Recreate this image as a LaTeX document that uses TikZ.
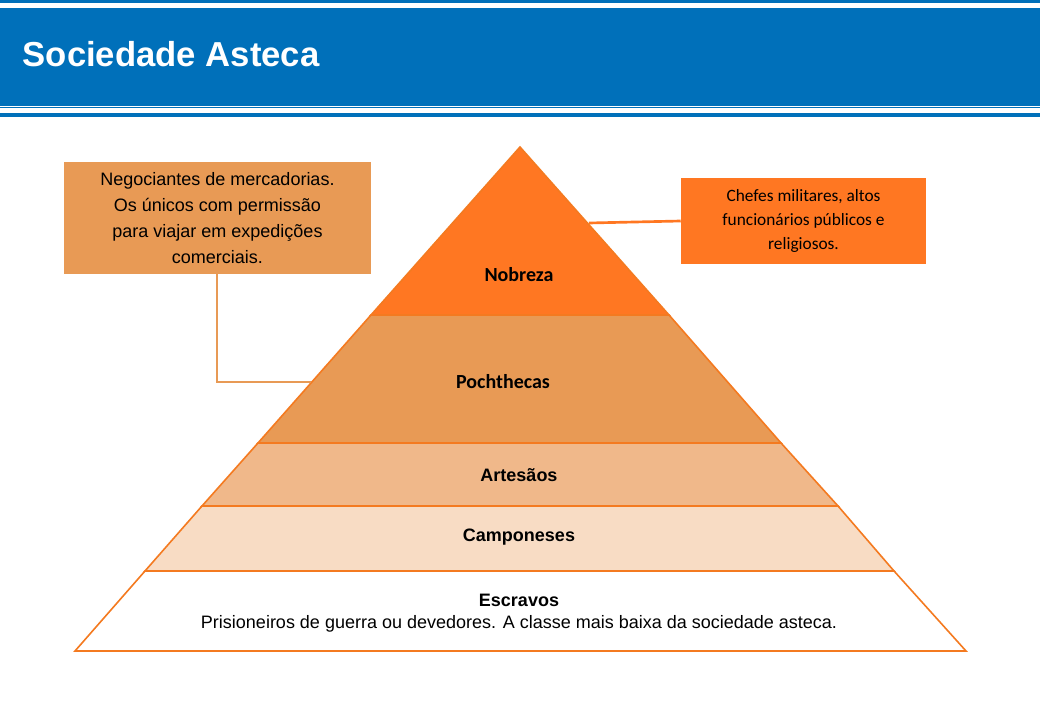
\documentclass[tikz,border=0pt]{standalone}
\usepackage{fontspec}
\setmainfont{Liberation Sans}
\newfontfamily\carlitofont{Carlito}
\definecolor{hblue}{HTML}{0070BA}
\definecolor{orA}{HTML}{FF7722}
\definecolor{orB}{HTML}{E89A55}
\definecolor{orC}{HTML}{F0B88A}
\definecolor{orD}{HTML}{F8DCC4}
\definecolor{edge}{HTML}{F47A20}
\begin{document}
\begin{tikzpicture}[x=0.75pt,y=-0.75pt,
  lvl/.style={draw=edge,line width=1.2pt,line join=miter},
  lbl/.style={font=\bfseries\fontsize{14.5}{17}\selectfont,text=black},
  conn/.style={draw=orB,line width=2pt}]
\useasboundingbox (0,0) rectangle (1040,720);
\fill[white] (0,0) rectangle (1040,720);
% header
\fill[hblue] (0,0) rectangle (1040,3.5);
\fill[hblue] (0,8) rectangle (1040,106);
\fill[hblue] (0,107.5) rectangle (1040,108.5);
\fill[hblue] (0,113) rectangle (1040,117);
\node[anchor=west,text=white,font=\bfseries\fontsize{26}{30}\selectfont] (title) at (18,54) {Sociedade Asteca};
% pyramid levels
\coordinate (apex) at (520,147);
\path[lvl,fill=white] (145,571) -- (894,571) -- (966,651) -- (75,651) -- cycle;
\path[lvl,fill=orD] (202,506) -- (838,506) -- (894,571) -- (145,571) -- cycle;
\path[lvl,fill=orC] (258,443) -- (781,443) -- (838,506) -- (202,506) -- cycle;
\path[lvl,fill=orB] (371,315) -- (669,315) -- (781,443) -- (258,443) -- cycle;
\path[lvl,fill=orA] (apex) -- (669,315) -- (371,315) -- cycle;
\node[lbl,font=\carlitofont\bfseries\fontsize{15}{18}\selectfont] (nob) at (519,275) {Nobreza};
\node[lbl,font=\carlitofont\bfseries\fontsize{15}{18}\selectfont] (poc) at (503,382) {Pochthecas};
\node[lbl,font=\bfseries\fontsize{13.5}{16}\selectfont] (art) at (519,475) {Artesãos};
\node[lbl,font=\bfseries\fontsize{13.5}{16}\selectfont] (cam) at (519,537) {Camponeses};
\node[align=center,font=\fontsize{13.5}{16.5}\selectfont] (esc) at (519,613) {\textbf{Escravos}\\Prisioneiros de guerra ou devedores. A classe mais baixa da sociedade asteca.};
% left callout
\node[fill=orB,minimum width=307*0.75pt,minimum height=112*0.75pt,align=center,inner sep=0pt,
  font=\fontsize{13.5}{19.5}\selectfont] (lbox) at (217.5,218)
  {Negociantes de mercadorias.\\Os únicos com permissão\\para viajar em expedições\\comerciais.};
\coordinate (lc) at (217,382);
\coordinate (lend) at (311,382);
\draw[conn] (lbox.south -| lc) -- (lc) -- (lend);
% right callout
\node[fill=orA,minimum width=245*0.75pt,minimum height=86*0.75pt,align=center,inner sep=0pt,
  font=\carlitofont\fontsize{13}{18}\selectfont] (rbox) at (803.5,221)
  {Chefes militares, altos\\funcionários públicos e\\religiosos.};
\coordinate (rend) at (589,223);
\draw[draw=orA,line width=2pt] (rend) -- (rbox.west);
\end{tikzpicture}
\end{document}
